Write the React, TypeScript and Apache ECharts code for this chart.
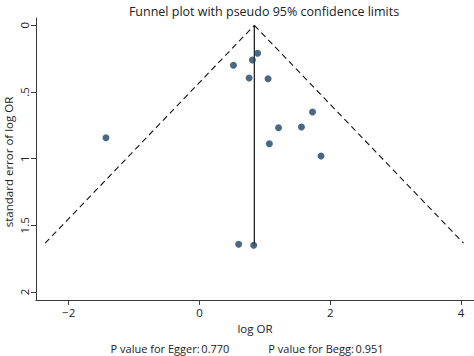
import React, { useEffect, useRef } from "react";
import * as echarts from "echarts";

const studyLogOR = [0.89, 0.81, 0.52, 0.76, 1.05, 1.73, -1.43, 1.21, 1.56, 1.07, 1.86, 0.6, 0.83];
const studySE = [0.21, 0.26, 0.3, 0.395, 0.4, 0.65, 0.843, 0.768, 0.762, 0.888, 0.98, 1.642, 1.649];
const pooledLogOR = 0.84;
const maxSE = 1.649;
const funnelLeftX = [-2.36, 0.84];
const funnelLeftY = [1.634, 0];
const funnelRightX = [0.84, 4.04];
const funnelRightY = [0, 1.634];
const xTicks = [-2, 0, 2, 4];
const xTickLabels = ["\u22122", "0", "2", "4"];
const yTicks = [0, 0.5, 1, 1.5, 2];
const yTickLabels = ["0", ".5", "1", "1.5", "2"];
const titleText = "Funnel plot with pseudo 95% confidence limits";
const yAxisTitle = "standard error of log OR";
const eggerText = "P value for Egger:\u20090.770";
const beggText = "P value for Begg:\u20090.951";

export default function App() {
  const ref = useRef<HTMLDivElement>(null);
  useEffect(() => {
    if (!ref.current) return;
    const chart = echarts.init(ref.current, null, { renderer: "svg" });
    const font = "'Open Sans', 'Noto Sans', sans-serif";
    const axisColor = "#3a3a3a";
    chart.setOption({
      animation: false,
      backgroundColor: "#ffffff",
      textStyle: { fontFamily: font },
      grid: { left: 36, right: 0, top: 18, bottom: 56, containLabel: false, outerBoundsMode: "none" },
      xAxis: {
        type: "value",
        min: -2.5,
        max: 4.2,
        name: "log OR",
        nameLocation: "middle",
        nameGap: 20,
        nameTextStyle: { fontSize: 11.5, color: "#222", fontFamily: font },
        splitLine: { show: false },
        axisLine: { show: true, onZero: false, lineStyle: { color: axisColor, width: 1 } },
        axisTick: { show: true, length: 5, customValues: xTicks, lineStyle: { color: axisColor } },
        axisLabel: {
          customValues: xTicks,
          formatter: (v: number) => xTickLabels[xTicks.indexOf(v)] ?? "",
          fontSize: 11.5,
          color: "#222",
          margin: 6,
          fontFamily: font,
        },
      },
      yAxis: {
        type: "value",
        inverse: true,
        min: -0.055,
        max: 2.06,
        splitLine: { show: false },
        axisLine: { show: true, onZero: false, lineStyle: { color: axisColor, width: 1 } },
        axisTick: { show: true, length: 5, customValues: yTicks, lineStyle: { color: axisColor } },
        axisLabel: {
          customValues: yTicks,
          rotate: 90,
          formatter: (v: number) => yTickLabels[yTicks.indexOf(v)] ?? "",
          fontSize: 11.5,
          color: "#222",
          margin: 6,
          fontFamily: font,
        },
      },
      title: {
        text: titleText,
        left: 259,
        textAlign: "center",
        top: 0,
        textStyle: { fontSize: 12.5, fontWeight: "normal", color: "#222", fontFamily: font },
      },
      graphic: [
        {
          type: "text",
          x: 8.5,
          y: 162,
          rotation: Math.PI / 2,
          style: { text: yAxisTitle, fontSize: 11.5, fill: "#222", fontFamily: font, textAlign: "center", textVerticalAlign: "middle" },
        },
        {
          type: "text",
          x: 170,
          y: 348,
          style: { text: eggerText, fontSize: 11, fill: "#222", fontFamily: font, textAlign: "center", textVerticalAlign: "middle" },
        },
        {
          type: "text",
          x: 326,
          y: 348,
          style: { text: beggText, fontSize: 11, fill: "#222", fontFamily: font, textAlign: "center", textVerticalAlign: "middle" },
        },
      ],
      series: [
        {
          type: "line",
          data: funnelLeftX.map((x, i) => [x, funnelLeftY[i]]),
          symbol: "none",
          lineStyle: { color: "#111", width: 1.1, type: [6, 4] },
          silent: true,
        },
        {
          type: "line",
          data: funnelRightX.map((x, i) => [x, funnelRightY[i]]),
          symbol: "none",
          lineStyle: { color: "#111", width: 1.1, type: [6, 4] },
          silent: true,
        },
        {
          type: "line",
          data: [
            [pooledLogOR, 0],
            [pooledLogOR, maxSE],
          ],
          symbol: "none",
          lineStyle: { color: "#222", width: 1.3 },
          silent: true,
        },
        {
          type: "scatter",
          data: studyLogOR.map((x, i) => [x, studySE[i]]),
          symbolSize: 7,
          itemStyle: { color: "#1c4268" },
          z: 5,
        },
      ],
    });
    return () => chart.dispose();
  }, []);
  return <div ref={ref} style={{ width: 474, height: 356, position: "absolute", left: 0, top: 0 }} />;
}
